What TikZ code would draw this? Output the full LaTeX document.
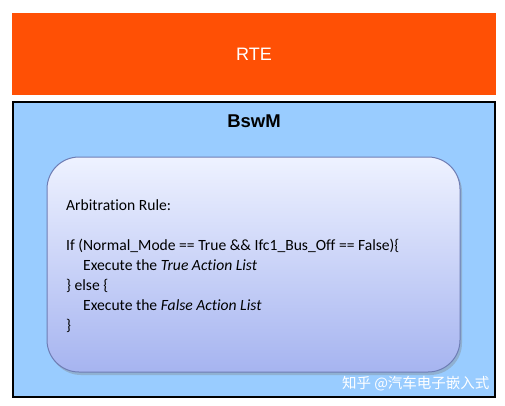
\documentclass[tikz,border=0pt]{standalone}
\usepackage{fontspec}
\setmainfont{Liberation Sans}
\newfontfamily\calib[Ligatures={NoCommon}]{Carlito}
\newfontfamily\cjk{Noto Sans CJK SC}
\usetikzlibrary{positioning,shadows}

\definecolor{rteorange}{RGB}{255,80,5}
\definecolor{bswblue}{RGB}{153,204,255}
\definecolor{ruletop}{RGB}{238,242,255}
\definecolor{rulebottom}{RGB}{166,180,240}
\definecolor{ruleedge}{RGB}{110,125,180}

\tikzset{
  layerbox/.style={rectangle, minimum width=484pt, inner sep=0pt},
  rulebox/.style={rectangle, rounded corners=32pt, draw=ruleedge, line width=1pt,
    top color=ruletop, bottom color=rulebottom, minimum width=413pt, minimum height=215pt,
    drop shadow={shadow xshift=2pt, shadow yshift=-3pt, opacity=0.35}},
}

\begin{document}
\begin{tikzpicture}[x=1pt, y=-1pt]
  \useasboundingbox (0,0) rectangle (505,405);
  \fill[white] (0,0) rectangle (505,405);

  % runtime environment on top
  \node (rte) [layerbox, fill=rteorange, minimum height=82pt,
    text=white, font=\fontsize{18}{20}\selectfont] at (254,54) {RTE};

  % basic software mode manager
  \node (bswm) [layerbox, fill=bswblue, draw=black, line width=2pt,
    minimum width=482pt, minimum height=295pt] at (254,249.5) {};
  \node (title) [font=\bfseries\fontsize{18.5}{20}\selectfont, anchor=base]
    at (254,127) {BswM};

  \node (rule) [rulebox] at (253.5,264.5) {};
  \node (ruletext) [anchor=north west, inner sep=0pt, align=left,
    font=\calib\fontsize{15.6}{20}\selectfont] at (66,199)
    {Arbitration Rule:\\[20pt]
     If (Normal\_Mode == True \&\& Ifc1\_Bus\_Off == False)\{\\
     \hspace*{17pt}Execute the \textit{True Action List}\\
     \} else \{\\
     \hspace*{17pt}Execute the \textit{False Action List}\\
     \}};

  \node (mark) [anchor=base east, text=white, font=\cjk\fontsize{14.5}{16}\selectfont]
    at (493,388) {知乎 @汽车电子嵌入式};
\end{tikzpicture}
\end{document}
